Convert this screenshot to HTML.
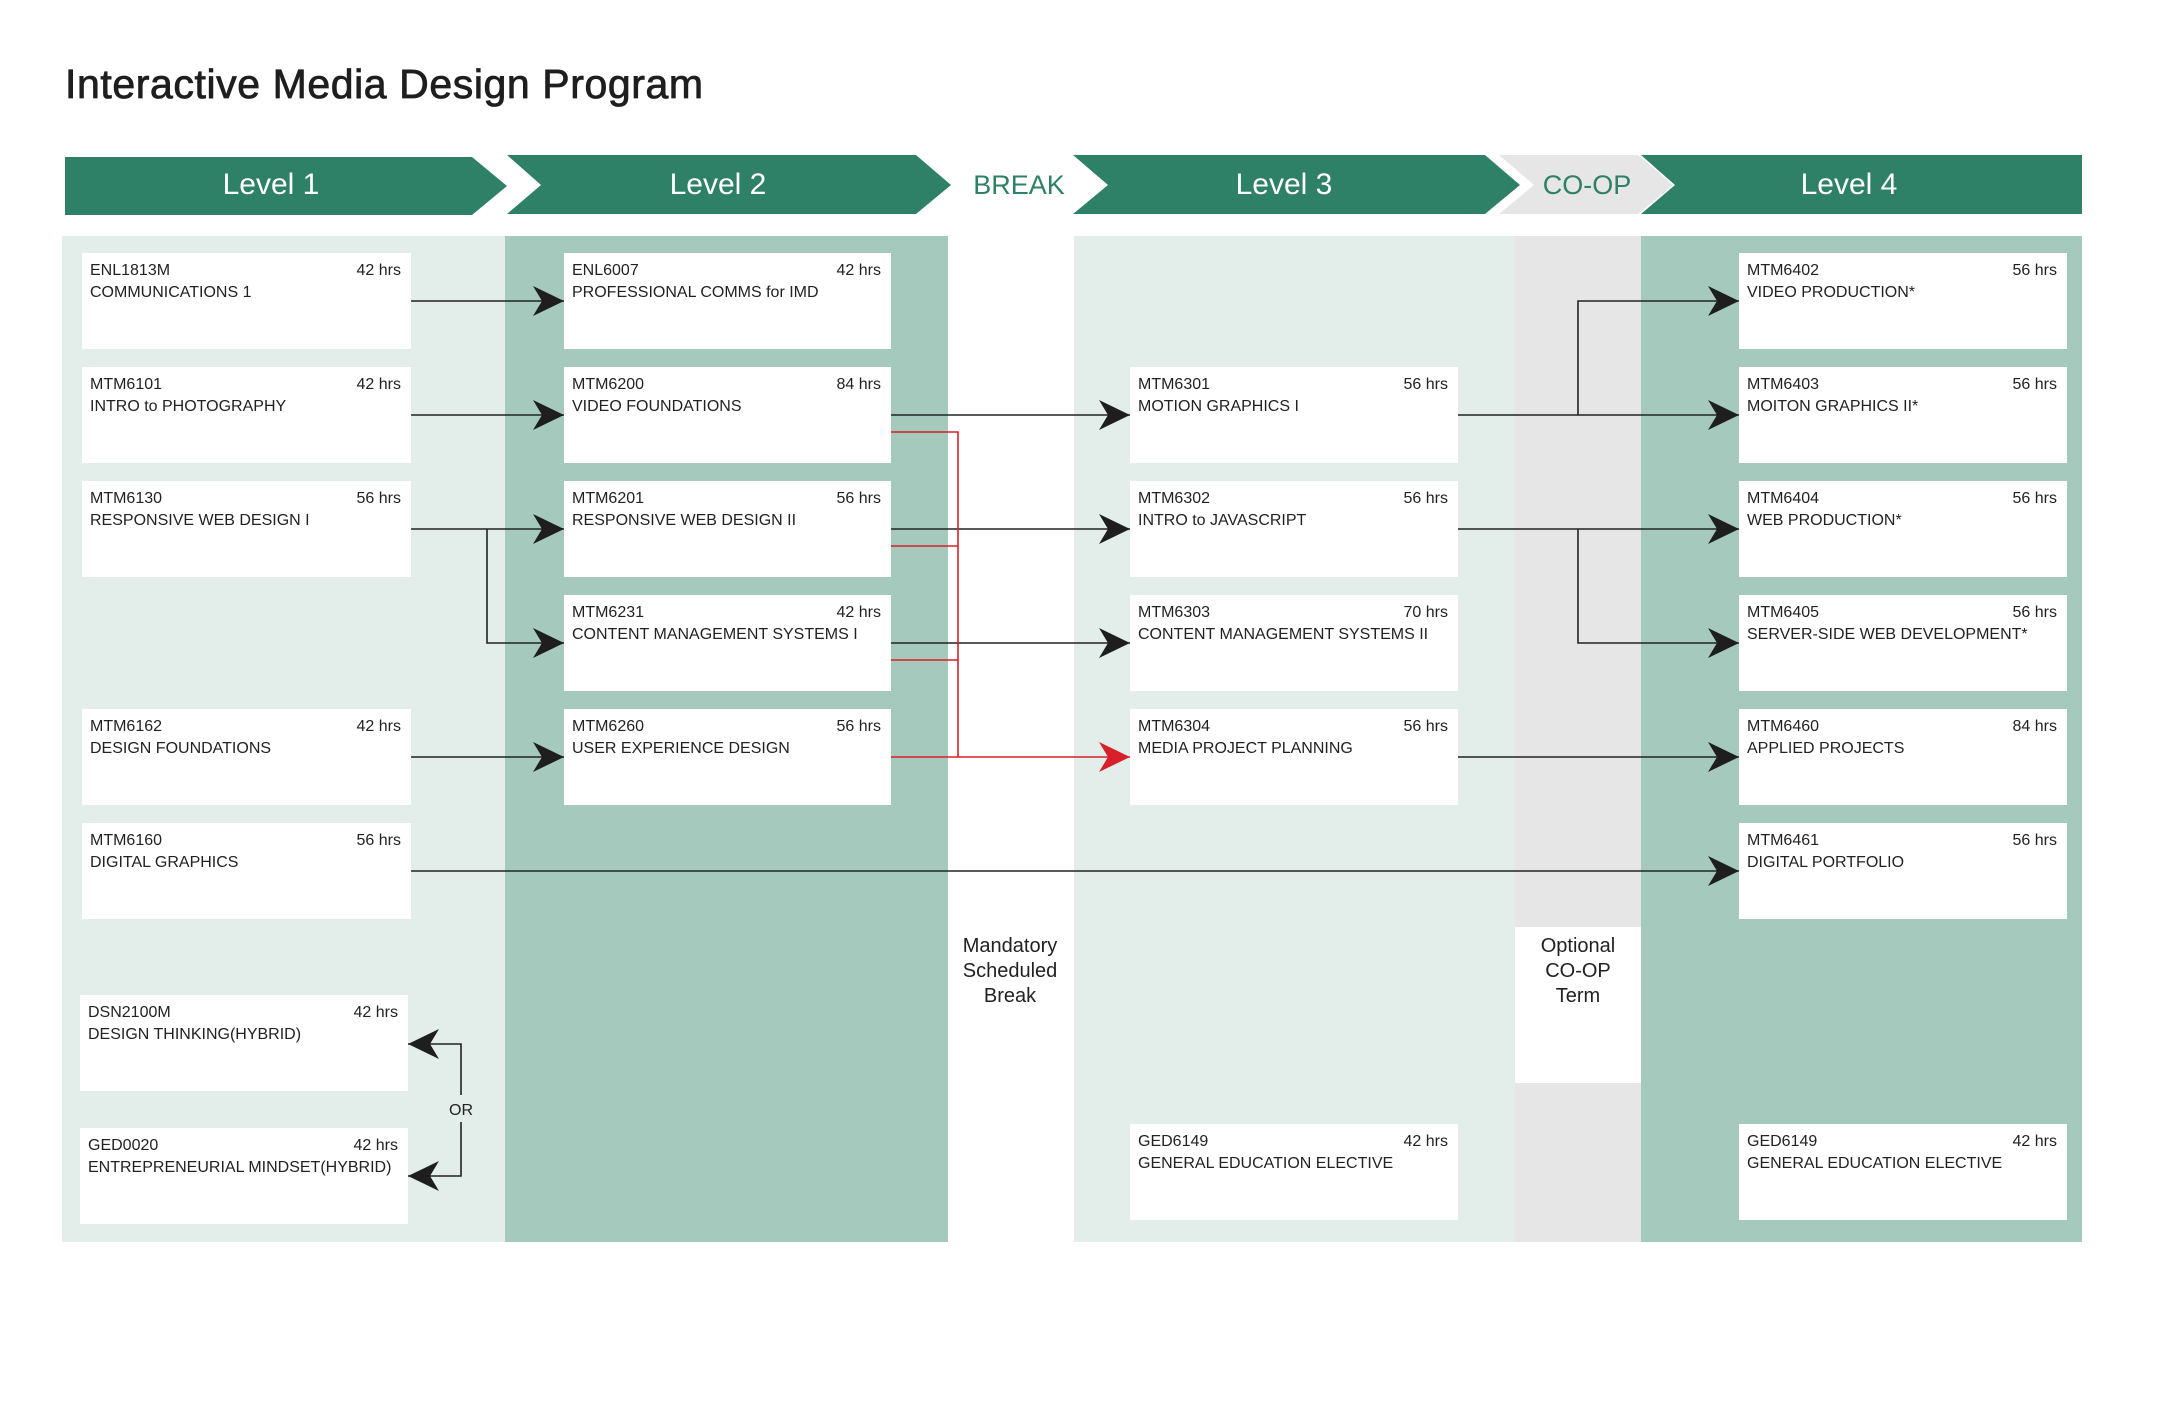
<!DOCTYPE html>
<html><head><meta charset="utf-8"><style>
html,body{margin:0;padding:0;background:#fff;}
svg{display:block;}
text{font-family:"Liberation Sans",sans-serif;}
.c{font-size:16px;fill:#222;}
</style></head><body>
<svg width="2176" height="1408" viewBox="0 0 2176 1408" xmlns="http://www.w3.org/2000/svg">
<defs>
<marker id="a" markerUnits="userSpaceOnUse" markerWidth="32" markerHeight="32" viewBox="0 0 32 32" refX="31" refY="16" orient="auto"><path d="M0,1 L31,16 L0,31 L9,16 Z" fill="#1e1e1e"/></marker>
<marker id="r" markerUnits="userSpaceOnUse" markerWidth="32" markerHeight="32" viewBox="0 0 32 32" refX="31" refY="16" orient="auto"><path d="M0,1 L31,16 L0,31 L9,16 Z" fill="#d7202a"/></marker>
</defs>
<text x="65" y="98" font-size="41" fill="#1e1e1e" stroke="#1e1e1e" stroke-width="0.8" textLength="638">Interactive Media Design Program</text>

<!-- banners -->
<polygon points="65,157 472,157 507,186 472,215 65,215" fill="#2e8066"/>
<polygon points="507,155 916,155 951,185 916,214 507,214 541,185" fill="#2e8066"/>
<polygon points="1073,155 1485,155 1520,185 1485,214 1073,214 1108,185" fill="#2e8066"/>
<polygon points="1499,155 1638,155 1673,185 1638,214 1499,214 1534,185" fill="#e6e6e6"/>
<polygon points="1641,155 2082,155 2082,214 1641,214 1675,185" fill="#2e8066"/>
<g font-size="30" text-anchor="middle">
<text x="271" y="194" fill="#fff">Level 1</text>
<text x="718" y="194" fill="#fff">Level 2</text>
<text x="1019" y="194" fill="#2e8066" font-size="27">BREAK</text>
<text x="1284" y="194" fill="#fff">Level 3</text>
<text x="1587" y="194" fill="#2e8066" font-size="27">CO-OP</text>
<text x="1849" y="194" fill="#fff">Level 4</text>
</g>

<!-- column backgrounds -->
<rect x="62" y="236" width="443" height="1006" fill="#e3eeea"/>
<rect x="505" y="236" width="443" height="1006" fill="#a5c9bc"/>
<rect x="1074" y="236" width="441" height="1006" fill="#e3eeea"/>
<rect x="1515" y="236" width="126" height="1006" fill="#e6e6e6"/>
<rect x="1641" y="236" width="441" height="1006" fill="#a5c9bc"/>
<rect x="1515" y="927" width="126" height="156" fill="#fff"/>

<g font-size="20" fill="#222" text-anchor="middle">
<text x="1010" y="952">Mandatory</text><text x="1010" y="977">Scheduled</text><text x="1010" y="1002">Break</text>
<text x="1578" y="952">Optional</text><text x="1578" y="977">CO-OP</text><text x="1578" y="1002">Term</text>
</g>

<!-- boxes -->
<g fill="#fff">
<rect x="82" y="253" width="329" height="96"/><rect x="82" y="367" width="329" height="96"/><rect x="82" y="481" width="329" height="96"/><rect x="82" y="709" width="329" height="96"/><rect x="82" y="823" width="329" height="96"/>
<rect x="80" y="995" width="328" height="96"/><rect x="80" y="1128" width="328" height="96"/>
<rect x="564" y="253" width="327" height="96"/><rect x="564" y="367" width="327" height="96"/><rect x="564" y="481" width="327" height="96"/><rect x="564" y="595" width="327" height="96"/><rect x="564" y="709" width="327" height="96"/>
<rect x="1130" y="367" width="328" height="96"/><rect x="1130" y="481" width="328" height="96"/><rect x="1130" y="595" width="328" height="96"/><rect x="1130" y="709" width="328" height="96"/><rect x="1130" y="1124" width="328" height="96"/>
<rect x="1739" y="253" width="328" height="96"/><rect x="1739" y="367" width="328" height="96"/><rect x="1739" y="481" width="328" height="96"/><rect x="1739" y="595" width="328" height="96"/><rect x="1739" y="709" width="328" height="96"/><rect x="1739" y="823" width="328" height="96"/><rect x="1739" y="1124" width="328" height="96"/>
</g>

<g class="c">
<text x="90" y="275">ENL1813M</text><text x="90" y="297">COMMUNICATIONS 1</text><text x="401" y="275" text-anchor="end">42 hrs</text>
<text x="90" y="389">MTM6101</text><text x="90" y="411">INTRO to PHOTOGRAPHY</text><text x="401" y="389" text-anchor="end">42 hrs</text>
<text x="90" y="503">MTM6130</text><text x="90" y="525">RESPONSIVE WEB DESIGN I</text><text x="401" y="503" text-anchor="end">56 hrs</text>
<text x="90" y="731">MTM6162</text><text x="90" y="753">DESIGN FOUNDATIONS</text><text x="401" y="731" text-anchor="end">42 hrs</text>
<text x="90" y="845">MTM6160</text><text x="90" y="867">DIGITAL GRAPHICS</text><text x="401" y="845" text-anchor="end">56 hrs</text>
<text x="88" y="1017">DSN2100M</text><text x="88" y="1039">DESIGN THINKING(HYBRID)</text><text x="398" y="1017" text-anchor="end">42 hrs</text>
<text x="88" y="1150">GED0020</text><text x="88" y="1172">ENTREPRENEURIAL MINDSET(HYBRID)</text><text x="398" y="1150" text-anchor="end">42 hrs</text>

<text x="572" y="275">ENL6007</text><text x="572" y="297">PROFESSIONAL COMMS for IMD</text><text x="881" y="275" text-anchor="end">42 hrs</text>
<text x="572" y="389">MTM6200</text><text x="572" y="411">VIDEO FOUNDATIONS</text><text x="881" y="389" text-anchor="end">84 hrs</text>
<text x="572" y="503">MTM6201</text><text x="572" y="525">RESPONSIVE WEB DESIGN II</text><text x="881" y="503" text-anchor="end">56 hrs</text>
<text x="572" y="617">MTM6231</text><text x="572" y="639">CONTENT MANAGEMENT SYSTEMS I</text><text x="881" y="617" text-anchor="end">42 hrs</text>
<text x="572" y="731">MTM6260</text><text x="572" y="753">USER EXPERIENCE DESIGN</text><text x="881" y="731" text-anchor="end">56 hrs</text>

<text x="1138" y="389">MTM6301</text><text x="1138" y="411">MOTION GRAPHICS I</text><text x="1448" y="389" text-anchor="end">56 hrs</text>
<text x="1138" y="503">MTM6302</text><text x="1138" y="525">INTRO to JAVASCRIPT</text><text x="1448" y="503" text-anchor="end">56 hrs</text>
<text x="1138" y="617">MTM6303</text><text x="1138" y="639">CONTENT MANAGEMENT SYSTEMS II</text><text x="1448" y="617" text-anchor="end">70 hrs</text>
<text x="1138" y="731">MTM6304</text><text x="1138" y="753">MEDIA PROJECT PLANNING</text><text x="1448" y="731" text-anchor="end">56 hrs</text>
<text x="1138" y="1146">GED6149</text><text x="1138" y="1168">GENERAL EDUCATION ELECTIVE</text><text x="1448" y="1146" text-anchor="end">42 hrs</text>

<text x="1747" y="275">MTM6402</text><text x="1747" y="297">VIDEO PRODUCTION*</text><text x="2057" y="275" text-anchor="end">56 hrs</text>
<text x="1747" y="389">MTM6403</text><text x="1747" y="411">MOITON GRAPHICS II*</text><text x="2057" y="389" text-anchor="end">56 hrs</text>
<text x="1747" y="503">MTM6404</text><text x="1747" y="525">WEB PRODUCTION*</text><text x="2057" y="503" text-anchor="end">56 hrs</text>
<text x="1747" y="617">MTM6405</text><text x="1747" y="639">SERVER-SIDE WEB DEVELOPMENT*</text><text x="2057" y="617" text-anchor="end">56 hrs</text>
<text x="1747" y="731">MTM6460</text><text x="1747" y="753">APPLIED PROJECTS</text><text x="2057" y="731" text-anchor="end">84 hrs</text>
<text x="1747" y="845">MTM6461</text><text x="1747" y="867">DIGITAL PORTFOLIO</text><text x="2057" y="845" text-anchor="end">56 hrs</text>
<text x="1747" y="1146">GED6149</text><text x="1747" y="1168">GENERAL EDUCATION ELECTIVE</text><text x="2057" y="1146" text-anchor="end">42 hrs</text>
</g>

<!-- connectors -->
<g stroke="#222" stroke-width="1.6" fill="none">
<line x1="411" y1="301" x2="564" y2="301" marker-end="url(#a)"/>
<line x1="411" y1="415" x2="564" y2="415" marker-end="url(#a)"/>
<line x1="411" y1="529" x2="564" y2="529" marker-end="url(#a)"/>
<polyline points="487,529 487,643 564,643" marker-end="url(#a)"/>
<line x1="411" y1="757" x2="564" y2="757" marker-end="url(#a)"/>
<line x1="411" y1="871" x2="1739" y2="871" marker-end="url(#a)"/>
<line x1="891" y1="415" x2="1130" y2="415" marker-end="url(#a)"/>
<line x1="891" y1="529" x2="1130" y2="529" marker-end="url(#a)"/>
<line x1="891" y1="643" x2="1130" y2="643" marker-end="url(#a)"/>
<line x1="1458" y1="415" x2="1739" y2="415" marker-end="url(#a)"/>
<polyline points="1578,415 1578,301 1739,301" marker-end="url(#a)"/>
<line x1="1458" y1="529" x2="1739" y2="529" marker-end="url(#a)"/>
<polyline points="1578,529 1578,643 1739,643" marker-end="url(#a)"/>
<line x1="1458" y1="757" x2="1739" y2="757" marker-end="url(#a)"/>
<polyline points="461,1095 461,1044 408,1044" marker-end="url(#a)"/>
<polyline points="461,1122 461,1176 408,1176" marker-end="url(#a)"/>
</g>
<text x="461" y="1115" font-size="16" fill="#222" text-anchor="middle">OR</text>
<g stroke="#d7202a" stroke-width="1.6" fill="none">
<polyline points="891,432 958,432 958,757"/>
<line x1="891" y1="546" x2="958" y2="546"/>
<line x1="891" y1="660" x2="958" y2="660"/>
<line x1="891" y1="757" x2="1130" y2="757" marker-end="url(#r)"/>
</g>
</svg>
</body></html>
